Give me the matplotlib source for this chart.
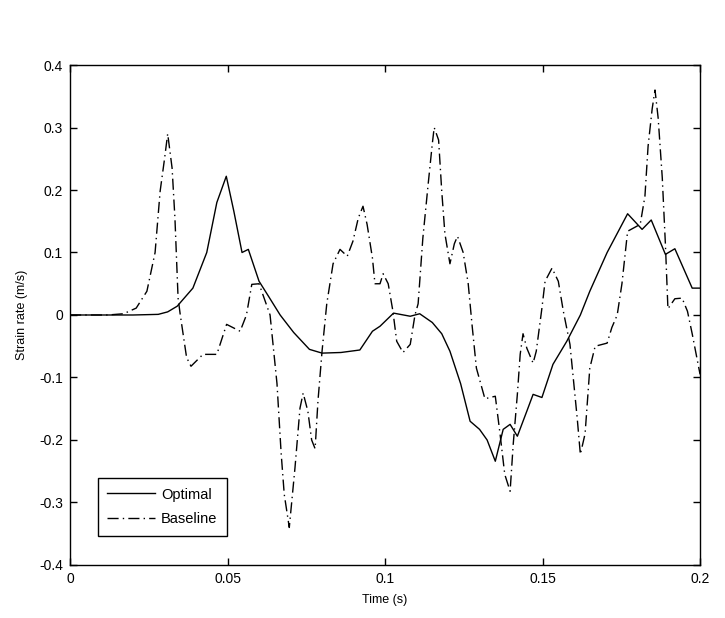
import matplotlib
matplotlib.use("Agg")
import matplotlib.pyplot as plt

plt.rcParams['font.family'] = ['Liberation Sans', 'DejaVu Sans']

# Optimal (solid)
t_opt = [0, 0.010, 0.020, 0.028, 0.031, 0.034, 0.039, 0.0434, 0.0466, 0.0496,
         0.052, 0.0546, 0.0566, 0.060, 0.063, 0.0667, 0.069, 0.071, 0.076,
         0.080, 0.086, 0.092, 0.096, 0.0984, 0.1027, 0.108, 0.111, 0.115,
         0.118, 0.1206, 0.124, 0.127, 0.130, 0.1324, 0.135, 0.1375, 0.1397,
         0.142, 0.145, 0.147, 0.1498, 0.1533, 0.1577, 0.162, 0.165, 0.1705,
         0.177, 0.1816, 0.1845, 0.189, 0.192, 0.1975, 0.2]
y_opt = [0, 0, 0, 0.001, 0.005, 0.014, 0.043, 0.10, 0.18, 0.222,
         0.166, 0.10, 0.105, 0.054, 0.03, 0.0, -0.015, -0.028, -0.055,
         -0.061, -0.060, -0.056, -0.026, -0.018, 0.003, -0.002, 0.002, -0.012,
         -0.03, -0.058, -0.11, -0.17, -0.183, -0.20, -0.234, -0.183, -0.175,
         -0.194, -0.154, -0.127, -0.132, -0.079, -0.042, 0.0, 0.038, 0.10,
         0.162, 0.137, 0.152, 0.097, 0.106, 0.043, 0.043]

# Baseline (dash-dot)
t_base = [0, 0.012, 0.017, 0.021, 0.0244, 0.027, 0.0286, 0.030, 0.031, 0.0324,
          0.0333, 0.0343, 0.035, 0.037, 0.0384, 0.0422, 0.0466, 0.0497, 0.054,
          0.056, 0.0577, 0.060, 0.0635, 0.0657, 0.067, 0.068, 0.0696, 0.0714,
          0.073, 0.074, 0.0755, 0.0767, 0.0778, 0.0787, 0.080, 0.0815, 0.0835,
          0.0857, 0.088, 0.0898, 0.0915, 0.093, 0.0943, 0.096, 0.0968, 0.0984,
          0.0994, 0.101, 0.1025, 0.1037, 0.1057, 0.108, 0.1095, 0.1105, 0.112,
          0.1137, 0.115, 0.1156, 0.117, 0.118, 0.119, 0.1206, 0.122, 0.123,
          0.1248, 0.1264, 0.1276, 0.129, 0.1317, 0.135, 0.1365, 0.138, 0.1397,
          0.1407, 0.142, 0.1429, 0.1438, 0.145, 0.147, 0.148, 0.1498, 0.1508,
          0.153, 0.155, 0.1566, 0.1587, 0.161, 0.162, 0.1635, 0.165, 0.1667,
          0.1705, 0.172, 0.1737, 0.1752, 0.177, 0.181, 0.1825, 0.1835, 0.1848,
          0.1857, 0.1867, 0.188, 0.189, 0.1898, 0.192, 0.1943, 0.196, 0.1975,
          0.2]
y_base = [0, 0, 0.002, 0.011, 0.038, 0.10, 0.198, 0.25, 0.29, 0.235,
          0.155, 0.027, 0.0, -0.068, -0.082, -0.063, -0.063, -0.015, -0.026,
          0.0, 0.049, 0.05, 0.0, -0.11, -0.22, -0.287, -0.34, -0.245,
          -0.149, -0.125, -0.154, -0.20, -0.214, -0.138, -0.058, 0.018, 0.082,
          0.105, 0.094, 0.118, 0.155, 0.174, 0.145, 0.091, 0.05, 0.05,
          0.066, 0.05, 0.006, -0.042, -0.06, -0.047, 0.0, 0.018, 0.123,
          0.21, 0.274, 0.30, 0.28, 0.198, 0.13, 0.082, 0.114, 0.126,
          0.10, 0.05, -0.015, -0.085, -0.134, -0.13, -0.19, -0.255, -0.282,
          -0.206, -0.127, -0.063, -0.03, -0.053, -0.077, -0.058, 0.011, 0.054,
          0.075, 0.054, 0.006, -0.047, -0.165, -0.223, -0.19, -0.085, -0.05,
          -0.045, -0.02, 0.0, 0.05, 0.134, 0.145, 0.19, 0.27, 0.33,
          0.36, 0.315, 0.22, 0.113, 0.01, 0.026, 0.027, 0.006, -0.03,
          -0.095]

xticks = [0, 0.05, 0.1, 0.15, 0.2]
xtick_labels = ["0", "0.05", "0.1", "0.15", "0.2"]
yticks = [-0.4, -0.3, -0.2, -0.1, 0, 0.1, 0.2, 0.3, 0.4]
ytick_labels = ["-0.4", "-0.3", "-0.2", "-0.1", "0", "0.1", "0.2", "0.3", "0.4"]

fig = plt.figure(figsize=(7.25, 6.18), dpi=100)
ax = fig.add_axes([0.0966, 0.0858, 0.869, 0.809])

ax.plot(t_opt, y_opt, color="black", linewidth=1.0, label="Optimal")
ax.plot(t_base, y_base, color="black", linewidth=1.0, linestyle=(0, (8, 3, 1, 3)), label="Baseline")

ax.set_xlim(0, 0.2)
ax.set_ylim(-0.4, 0.4)
ax.set_xticks(xticks)
ax.set_xticklabels(xtick_labels)
ax.set_yticks(yticks)
ax.set_yticklabels(ytick_labels)
ax.tick_params(direction="in", top=True, right=True, labelsize=10, length=5, width=1, pad=5)
for s in ax.spines.values():
    s.set_linewidth(1.0)
ax.set_xlabel("Time (s)", fontsize=9, labelpad=6)
ax.set_ylabel("Strain rate (m/s)", fontsize=9, labelpad=8)

leg = ax.legend(loc="lower left", bbox_to_anchor=(0.044, 0.058), fontsize=10.5,
                fancybox=False, framealpha=1, edgecolor="black", handlelength=3.3,
                handletextpad=0.4, borderpad=0.65, labelspacing=0.75, borderaxespad=0)
leg.get_frame().set_linewidth(1.0)

fig.savefig("out.png", dpi=100)
